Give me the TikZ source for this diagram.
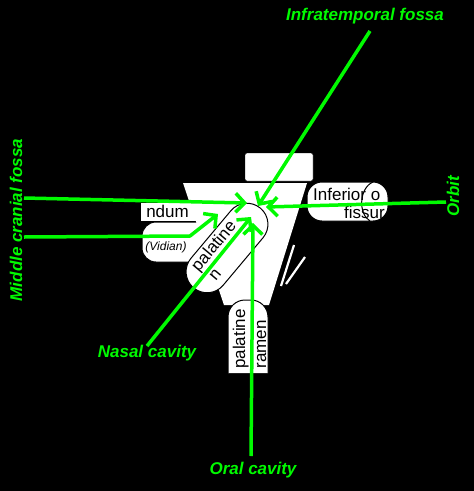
\documentclass[tikz,border=0pt]{standalone}
\usepackage{fontspec}
\setmainfont{Liberation Sans}
\usetikzlibrary{arrows.meta}
\definecolor{glime}{RGB}{0,250,0}
\begin{document}
\begin{tikzpicture}[x=1pt,y=-1pt,
  garrow/.style={draw=glime, line width=3.5pt, line join=round, -{Straight Barb[length=9pt,width=19pt]}},
  glabel/.style={text=glime, font=\fontsize{17}{20}\selectfont\bfseries\itshape, inner sep=0pt},
  boxtext/.style={font=\fontsize{17}{20}\selectfont, inner sep=0pt},
  whitebox/.style={fill=white, draw=black, line width=1pt}]
\fill[black] (0,0) rectangle (474,491);
\useasboundingbox (0,0) rectangle (474,491);
% boxes on the left
\filldraw[whitebox] (140,202) rectangle (196,221);
\filldraw[whitebox, rounded corners=14] (215,222) -- (142,222) -- (142,262) -- (215,262);
% funnel and top block
\fill[white] (183,183) -- (307,183) -- (269,305) -- (224,305) -- cycle;
\filldraw[fill=white, draw=black, rounded corners=2] (245,153) rectangle (313,181);
% inferior orbital fissure box
\filldraw[whitebox, rounded corners=15] (307,182) rectangle (388,221);
\node[boxtext, anchor=base west] (inf1) at (313,200) {Inferior o};
\node[boxtext, anchor=base east] (inf2) at (385,218) {fissur};
\draw[black, line width=1pt] (373,182) .. controls (359,188) and (358,214) .. (370,221);
% palatine canal capsule
\begin{scope}[shift={(227,248)}, rotate=50]
  \filldraw[whitebox, rounded corners=21] (-52,-21) rectangle (52,21);
  \node[boxtext, anchor=base west, transform shape] (pal1) at (-37,-6) {palatine};
  \node[boxtext, anchor=base west, transform shape] (pal2) at (-33,13) {n};
\end{scope}
% palatine foramen box
\filldraw[whitebox, rounded corners=17] (228,373) -- (228,300) -- (268,300) -- (268,373);
\node[boxtext, rotate=90, anchor=base west] (fp1) at (245,369) {palatine};
\node[boxtext, rotate=90, anchor=base east] (fp2) at (266,320) {ramen};
% small white strokes
\draw[white, line width=2.2pt] (294,245) -- (281,286);
\draw[white, line width=2.2pt] (305,257) -- (286,284);
% texts on left boxes
\node[boxtext, anchor=base east] (rot) at (189,217) {ndum};
\node[font=\fontsize{12}{14}\selectfont\itshape, inner sep=0pt] (vid) at (166,247) {(Vidian)};
% labels
\node[glabel] (infra) at (365,16) {Infratemporal fossa};
\node[glabel, rotate=90] (mcf) at (16,220) {Middle cranial fossa};
\node[glabel, rotate=90] (orbit) at (453,196) {Orbit};
\node[glabel] (nasal) at (147,353) {Nasal cavity};
\node[glabel] (oral) at (253,470) {Oral cavity};
% connector ends
\coordinate (sInfra) at (370,31);
\coordinate (tInfra) at (258,206);
\coordinate (sRot) at (24,198);
\coordinate (tRot) at (247,203);
\coordinate (sPter) at (24,237);
\coordinate (bPter) at (190,236);
\coordinate (tPter) at (218,214);
\coordinate (sOrbit) at (446,202);
\coordinate (tOrbit) at (266,207);
\coordinate (sNasal) at (147,346);
\coordinate (tNasal) at (251,217);
\coordinate (sOral) at (251,456);
\coordinate (tOral) at (253,223);
% arrows
\draw[garrow] (sInfra) -- (tInfra);
\draw[garrow] (sRot) -- (tRot);
\draw[garrow] (sPter) -- (bPter) -- (tPter);
\draw[garrow] (sOrbit) -- (tOrbit);
\draw[garrow] (sNasal) -- (tNasal);
\draw[garrow] (sOral) -- (tOral);
\end{tikzpicture}
\end{document}
